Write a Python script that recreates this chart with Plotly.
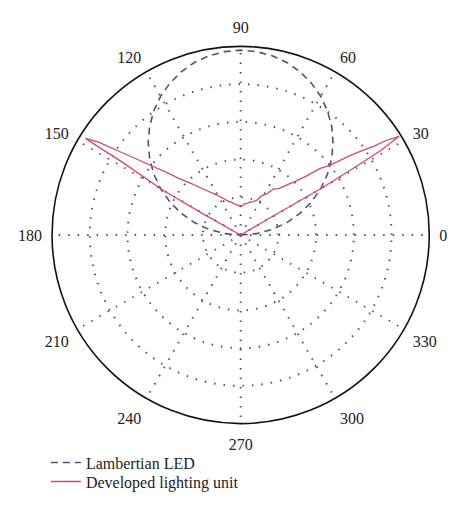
import plotly.graph_objects as go

# ---- data ----
lamb_theta = [0, 5, 10, 15, 20, 25, 30, 35, 40, 45, 50, 55, 60, 65, 70, 75, 80, 85, 90,
              95, 100, 105, 110, 115, 120, 125, 130, 135, 140, 145, 150, 155, 160, 165, 170, 175, 180]
lamb_r = [0.0, 0.085, 0.170, 0.254, 0.335, 0.414, 0.490, 0.562, 0.630, 0.693, 0.751, 0.803,
          0.849, 0.888, 0.921, 0.947, 0.965, 0.976, 0.980,
          0.976, 0.965, 0.947, 0.921, 0.888, 0.849, 0.803, 0.751, 0.693, 0.630, 0.562, 0.490,
          0.414, 0.335, 0.254, 0.170, 0.085, 0.0]

dev_theta = [30.0, 30.2, 30.0, 30.6, 31.1, 31.9, 33.0, 33.7, 35.0, 36.1, 38.0, 39.9, 42.0,
             44.8, 48.0, 51.0, 54.5, 57.4, 60.0, 62.0, 64.8, 69.1, 74.0, 78.0, 82.0, 86.0,
             88.0, 90.0, 92.0, 94.0, 98.0, 103.0, 106.0, 108.3, 112.4, 116.0, 119.0, 119.9,
             124.0, 127.7, 131.0, 134.5, 137.5, 140.0, 142.5, 144.0, 145.4, 146.8, 148.1,
             148.4, 150.0, 150.8, 151.0]
dev_r = [0.0, 0.20, 0.49, 0.69, 0.87, 0.99, 0.92, 0.85, 0.77, 0.71, 0.60, 0.55, 0.465,
         0.40, 0.35, 0.315, 0.30, 0.26, 0.245, 0.235, 0.205, 0.19, 0.182, 0.172, 0.168, 0.158,
         0.152, 0.150, 0.152, 0.158, 0.162, 0.172, 0.182, 0.185, 0.200, 0.218, 0.235, 0.242,
         0.268, 0.300, 0.337, 0.389, 0.445, 0.52, 0.612, 0.69, 0.78, 0.90, 0.97,
         0.735, 0.48, 0.21, 0.0]

angle_ticks = [0, 30, 60, 90, 120, 150, 180, 210, 240, 270, 300, 330]
ring_ticks = [0.2, 0.4, 0.6, 0.8]

SERIF = "Liberation Serif, Times New Roman, serif"
GRID_DASH = "1.5px,8px"

fig = go.Figure()
fig.add_trace(go.Scatterpolar(
    theta=lamb_theta, r=lamb_r, mode="lines", name="Lambertian LED",
    line=dict(color="#50507f", width=1.6, dash="7px,5px"),
    legend="legend",
))
fig.add_trace(go.Scatterpolar(
    theta=dev_theta, r=dev_r, mode="lines", name="Developed lighting unit",
    line=dict(color="#d2457f", width=1.3),
    legend="legend2",
))

X0, X1 = 44, 421.3
Y0, Y1 = 38.4, 415.6
leg_common = dict(
    x=0.08, xanchor="left", yanchor="top",
    font=dict(family=SERIF, size=16, color="#222222"),
    bgcolor="rgba(0,0,0,0)", itemwidth=30,
)
fig.update_layout(
    width=474, height=516,
    margin=dict(l=0, r=0, t=0, b=0, autoexpand=False),
    paper_bgcolor="white",
    plot_bgcolor="white",
    font=dict(family=SERIF, size=16, color="#222222"),
    showlegend=True,
    legend=dict(y=0.152, **leg_common),
    legend2=dict(y=0.1151, **leg_common),
    polar=dict(
        domain=dict(x=[X0 / 474, X1 / 474], y=[1 - Y1 / 516, 1 - Y0 / 516]),
        bgcolor="white",
        radialaxis=dict(
            range=[0, 1], tickvals=ring_ticks, showticklabels=False, ticks="",
            showline=False, gridcolor="#555555", gridwidth=1.5, griddash=GRID_DASH,
        ),
        angularaxis=dict(
            tickvals=angle_ticks, ticktext=[str(a) for a in angle_ticks],
            direction="counterclockwise", rotation=0,
            showline=True, linecolor="#111111", linewidth=1.6,
            ticks="outside", ticklen=6, tickcolor="rgba(0,0,0,0)",
            gridcolor="#555555", gridwidth=1.5, griddash=GRID_DASH,
            tickfont=dict(family=SERIF, size=16, color="#222222"),
        ),
    ),
)

fig.write_html("out.html")
